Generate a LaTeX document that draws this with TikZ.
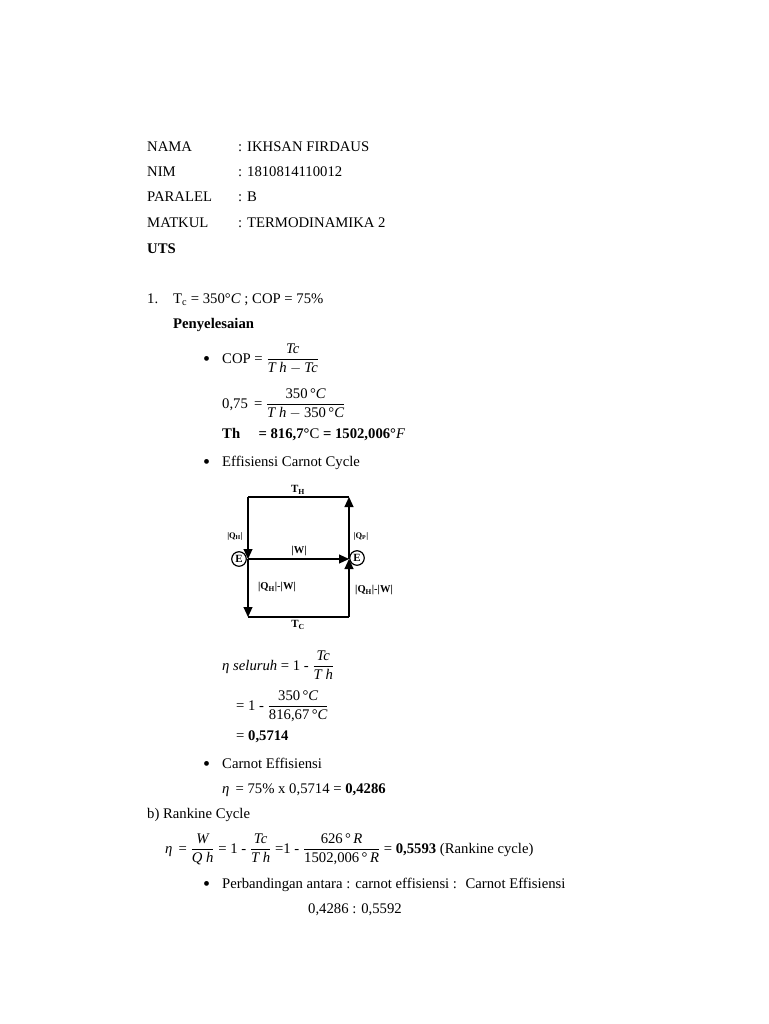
\documentclass[tikz,border=0pt]{standalone}
\usepackage{amsmath}
\usepackage{fontspec}
\setmainfont{Liberation Serif}
\usetikzlibrary{arrows.meta}
\begin{document}
\begin{tikzpicture}[x=1pt,y=-1pt,
  t/.style={anchor=base west,inner sep=0pt,font=\fontsize{14.7}{17}\selectfont},
  sm/.style={inner sep=1pt,font=\fontsize{8.5}{10}\selectfont\bfseries},
  bl/.style={anchor=base west,inner sep=0pt,font=\fontsize{20}{20}\selectfont},
  ar/.style={-{Triangle[length=10pt,width=9pt]},line width=1.1pt},
  ln/.style={line width=1.1pt},
  en/.style={draw,circle,fill=white,line width=1.2pt,inner sep=1.5pt,font=\fontsize{11}{11}\selectfont\bfseries}]
\useasboundingbox (0,0) rectangle (768,1024);
\node[t] (n1) at (147,152) {NAMA};
\node[t] (n1c) at (238,152) {: IKHSAN FIRDAUS};
\node[t] (n2) at (147,177) {NIM};
\node[t] (n2c) at (238,177) {: 1810814110012};
\node[t] (n3) at (147,202) {PARALEL};
\node[t] (n3c) at (238,202) {: B};
\node[t] (n4) at (147,227) {MATKUL};
\node[t] (n4c) at (238,227) {: TERMODINAMIKA 2};
\node[t] (n5) at (147,253) {\textbf{UTS}};
\node[t] (q1) at (147,303) {1.};
\node[t] (q1t) at (173,303) {T\textsubscript{c} = 350°\textit{C} ; COP = 75\%};
\node[t] (pen) at (173,328) {\textbf{Penyelesaian}};
\node[bl] (b1) at (203,365) {•};
\node[t] (cop) at (222,363) {COP = $\dfrac{\textit{Tc}}{\textit{T h}-\textit{Tc}}$};
\node[t] (e2) at (222,408) {0,75 \,= $\dfrac{\textrm{350}\,\textrm{°}\textit{C}}{\textit{T h}-\textrm{350}\,\textrm{°}\textit{C}}$};
\node[t] (th) at (222,438) {\textbf{Th \quad = 816,7°}C \textbf{= 1502,006°}\textit{F}};
\node[bl] (b2) at (203,468) {•};
\node[t] (eff) at (222,466) {Effisiensi Carnot Cycle};
% diagram
\coordinate (tl) at (248,497); \coordinate (tr) at (349,497);
\coordinate (ml) at (248,559); \coordinate (mr) at (349,559);
\coordinate (bl) at (248,617); \coordinate (br) at (349,617);
\draw[ln] (tl) -- (tr);
\draw[ln] (bl) -- (br);
\draw[ar] (tl) -- (ml);
\draw[ar] (ml) -- (bl);
\draw[ar] (ml) -- (mr);
\draw[ar] (br) -- (mr);
\draw[ar] (mr) -- (tr);
\node[sm,font=\fontsize{11}{12}\selectfont\bfseries] (TH) at (298,490) {T\textsubscript{H}};
\node[sm,font=\fontsize{11}{12}\selectfont\bfseries] (TC) at (298,625) {T\textsubscript{C}};
\node[sm] (qh1) at (235,536) {|Q\textsubscript{H}|};
\node[sm] (qh2) at (361,536) {|Q\textsubscript{P}|};
\node[sm,font=\fontsize{10.5}{12}\selectfont\bfseries] (w) at (299,551) {|W|};
\node[sm,font=\fontsize{10.5}{12}\selectfont\bfseries] (l1) at (277,587) {|Q\textsubscript{H}|-|W|};
\node[sm,font=\fontsize{10.5}{12}\selectfont\bfseries] (r1) at (374,590) {|Q\textsubscript{H}|-|W|};
\node[en] (E1) at (239,559) {E};
\node[en] (E2) at (357,558) {E};
% eta
\node[t] (eta1) at (222,670) {\textit{η seluruh} = 1 - $\dfrac{\textit{Tc}}{\textit{T h}}$};
\node[t] (eta2) at (236,710) {= 1 - $\dfrac{\textrm{350}\,\textrm{°}\textit{C}}{\textrm{816,67}\,\textrm{°}\textit{C}}$};
\node[t] (eta3) at (236,740) {= \textbf{0,5714}};
\node[bl] (b3) at (203,770) {•};
\node[t] (ce) at (222,768) {Carnot Effisiensi};
\node[t] (eta4) at (222,793) {\textit{η} \,= 75\% x 0,5714 = \textbf{0,4286}};
\node[t] (rb) at (147,818) {b) Rankine Cycle};
\node[t] (eta5) at (165,853) {\textit{η} \,= $\dfrac{\textit{W}}{\textit{Q h}}$ = 1 - $\dfrac{\textit{Tc}}{\textit{T h}}$ =1 - $\dfrac{\textrm{626}\,\textrm{°}\,\textit{R}}{\textrm{1502,006}\,\textrm{°}\,\textit{R}}$ = \textbf{0,5593} (Rankine cycle)};
\node[bl] (b4) at (203,890) {•};
\node[t] (per) at (222,888) {Perbandingan antara : carnot effisiensi : \ Carnot Effisiensi};
\node[t] (rat) at (308,913) {0,4286 : 0,5592};
\end{tikzpicture}
\end{document}
